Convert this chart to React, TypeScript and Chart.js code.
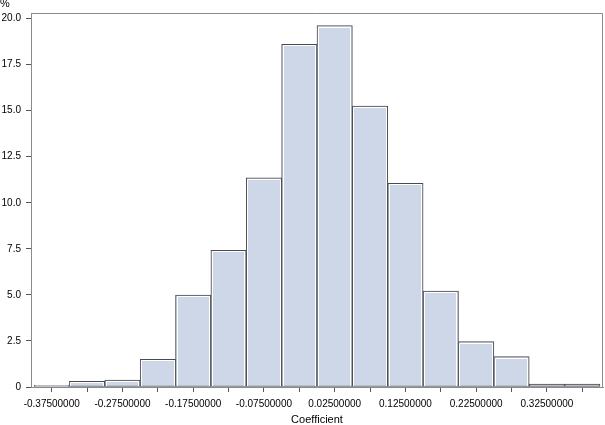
import React, { useEffect, useRef } from "react";
import { Chart, registerables } from "chart.js";

Chart.register(...registerables);

const binCenters = [
  -0.375, -0.325, -0.275, -0.225, -0.175, -0.125, -0.075, -0.025,
  0.025, 0.075, 0.125, 0.175, 0.225, 0.275, 0.325, 0.375,
];
const percents = [
  0.09, 0.31, 0.38, 1.5, 4.99, 7.42, 11.36, 18.6,
  19.62, 15.25, 11.05, 5.21, 2.46, 1.65, 0.16, 0.16,
];
const yTickValues = [0, 2.5, 5, 7.5, 10, 12.5, 15, 17.5, 20];
const xTitle = "Coefficient";
const yTitle = "%";

const FONT = "'Liberation Sans', Arial, sans-serif";

export default function App() {
  const ref = useRef<HTMLCanvasElement | null>(null);

  useEffect(() => {
    document.body.style.margin = "0";
    const canvas = ref.current;
    if (!canvas) return;

    const innerLine = {
      id: "innerLine",
      afterDatasetsDraw(chart: any) {
        const ctx = chart.ctx;
        const meta = chart.getDatasetMeta(0);
        ctx.save();
        ctx.strokeStyle = "#ffffff";
        ctx.lineWidth = 1;
        meta.data.forEach((bar: any) => {
          const p = bar.getProps(["x", "y", "base", "width"], true);
          const left = p.x - p.width / 2;
          const right = p.x + p.width / 2;
          const h = p.base - p.y;
          if (h < 4) return;
          ctx.beginPath();
          ctx.moveTo(Math.round(left) + 1.5, Math.round(p.base) - 1);
          ctx.lineTo(Math.round(left) + 1.5, Math.round(p.y) + 1.5);
          ctx.lineTo(Math.round(right) - 1.5, Math.round(p.y) + 1.5);
          ctx.lineTo(Math.round(right) - 1.5, Math.round(p.base) - 1);
          ctx.stroke();
        });
        ctx.restore();
      },
      afterDraw(chart: any) {
        const ctx = chart.ctx;
        const ca = chart.chartArea;
        ctx.save();
        ctx.strokeStyle = "#8a8a8a";
        ctx.lineWidth = 1;
        ctx.beginPath();
        ctx.moveTo(ca.left, Math.round(ca.top) + 0.5);
        ctx.lineTo(Math.round(ca.right) - 0.5, Math.round(ca.top) + 0.5);
        ctx.lineTo(Math.round(ca.right) - 0.5, ca.bottom);
        ctx.stroke();
        ctx.fillStyle = "#000";
        ctx.font = `11px ${FONT}`;
        ctx.textBaseline = "middle";
        ctx.textAlign = "left";
        ctx.fillText(yTitle, 0, 4);
        ctx.restore();
      },
    };

    const chart = new Chart(canvas, {
      type: "bar",
      data: {
        datasets: [
          {
            data: binCenters.map((x, i) => ({ x, y: percents[i] })),
            backgroundColor: "#cdd7e7",
            borderColor: "#4a4a4a",
            borderWidth: 1,
            borderSkipped: false,
            barPercentage: 1,
            categoryPercentage: 1,
          },
        ],
      },
      options: {
        animation: false,
        responsive: false,
        maintainAspectRatio: false,
        layout: { padding: { left: 0, top: 13, right: 2, bottom: 0 } },
        plugins: {
          legend: { display: false },
          tooltip: { enabled: false },
          title: { display: false },
        },
        scales: {
          x: {
            type: "linear",
            min: -0.4043,
            max: 0.4043,
            offset: false,
            afterBuildTicks(scale: any) {
              scale.ticks = binCenters.map((v) => ({ value: v }));
            },
            afterFit(scale: any) {
              scale.height = 38;
            },
            grid: {
              display: true,
              offset: false,
              drawOnChartArea: false,
              drawTicks: true,
              tickLength: 5,
              color: "#555",
            },
            border: { display: true, color: "#8a8a8a" },
            ticks: {
              autoSkip: false,
              maxRotation: 0,
              padding: 6,
              color: "#000",
              font: { family: FONT, size: 10 },
              callback(value: any, index: number) {
                return index % 2 === 0 ? Number(value).toFixed(8) : "";
              },
            },
            title: {
              display: true,
              text: xTitle,
              color: "#000",
              font: { family: FONT, size: 11 },
              padding: { top: 0, bottom: -2 },
            },
          },
          y: {
            type: "linear",
            min: 0,
            max: 20.3,
            afterBuildTicks(scale: any) {
              scale.ticks = yTickValues.map((v) => ({ value: v }));
            },
            afterFit(scale: any) {
              scale.width = 31;
            },
            grid: {
              display: true,
              drawOnChartArea: false,
              drawTicks: true,
              tickLength: 5,
              color: "#555",
            },
            border: { display: true, color: "#8a8a8a" },
            ticks: {
              padding: 5,
              color: "#000",
              font: { family: FONT, size: 10 },
              callback(value: any) {
                const v = Number(value);
                return v === 0 ? "0" : v.toFixed(1);
              },
            },
          },
        },
      },
      plugins: [innerLine],
    } as any);

    return () => chart.destroy();
  }, []);

  return (
    <div style={{ width: 605, height: 425, position: "relative" }}>
      <canvas ref={ref} width={605} height={425} />
    </div>
  );
}
